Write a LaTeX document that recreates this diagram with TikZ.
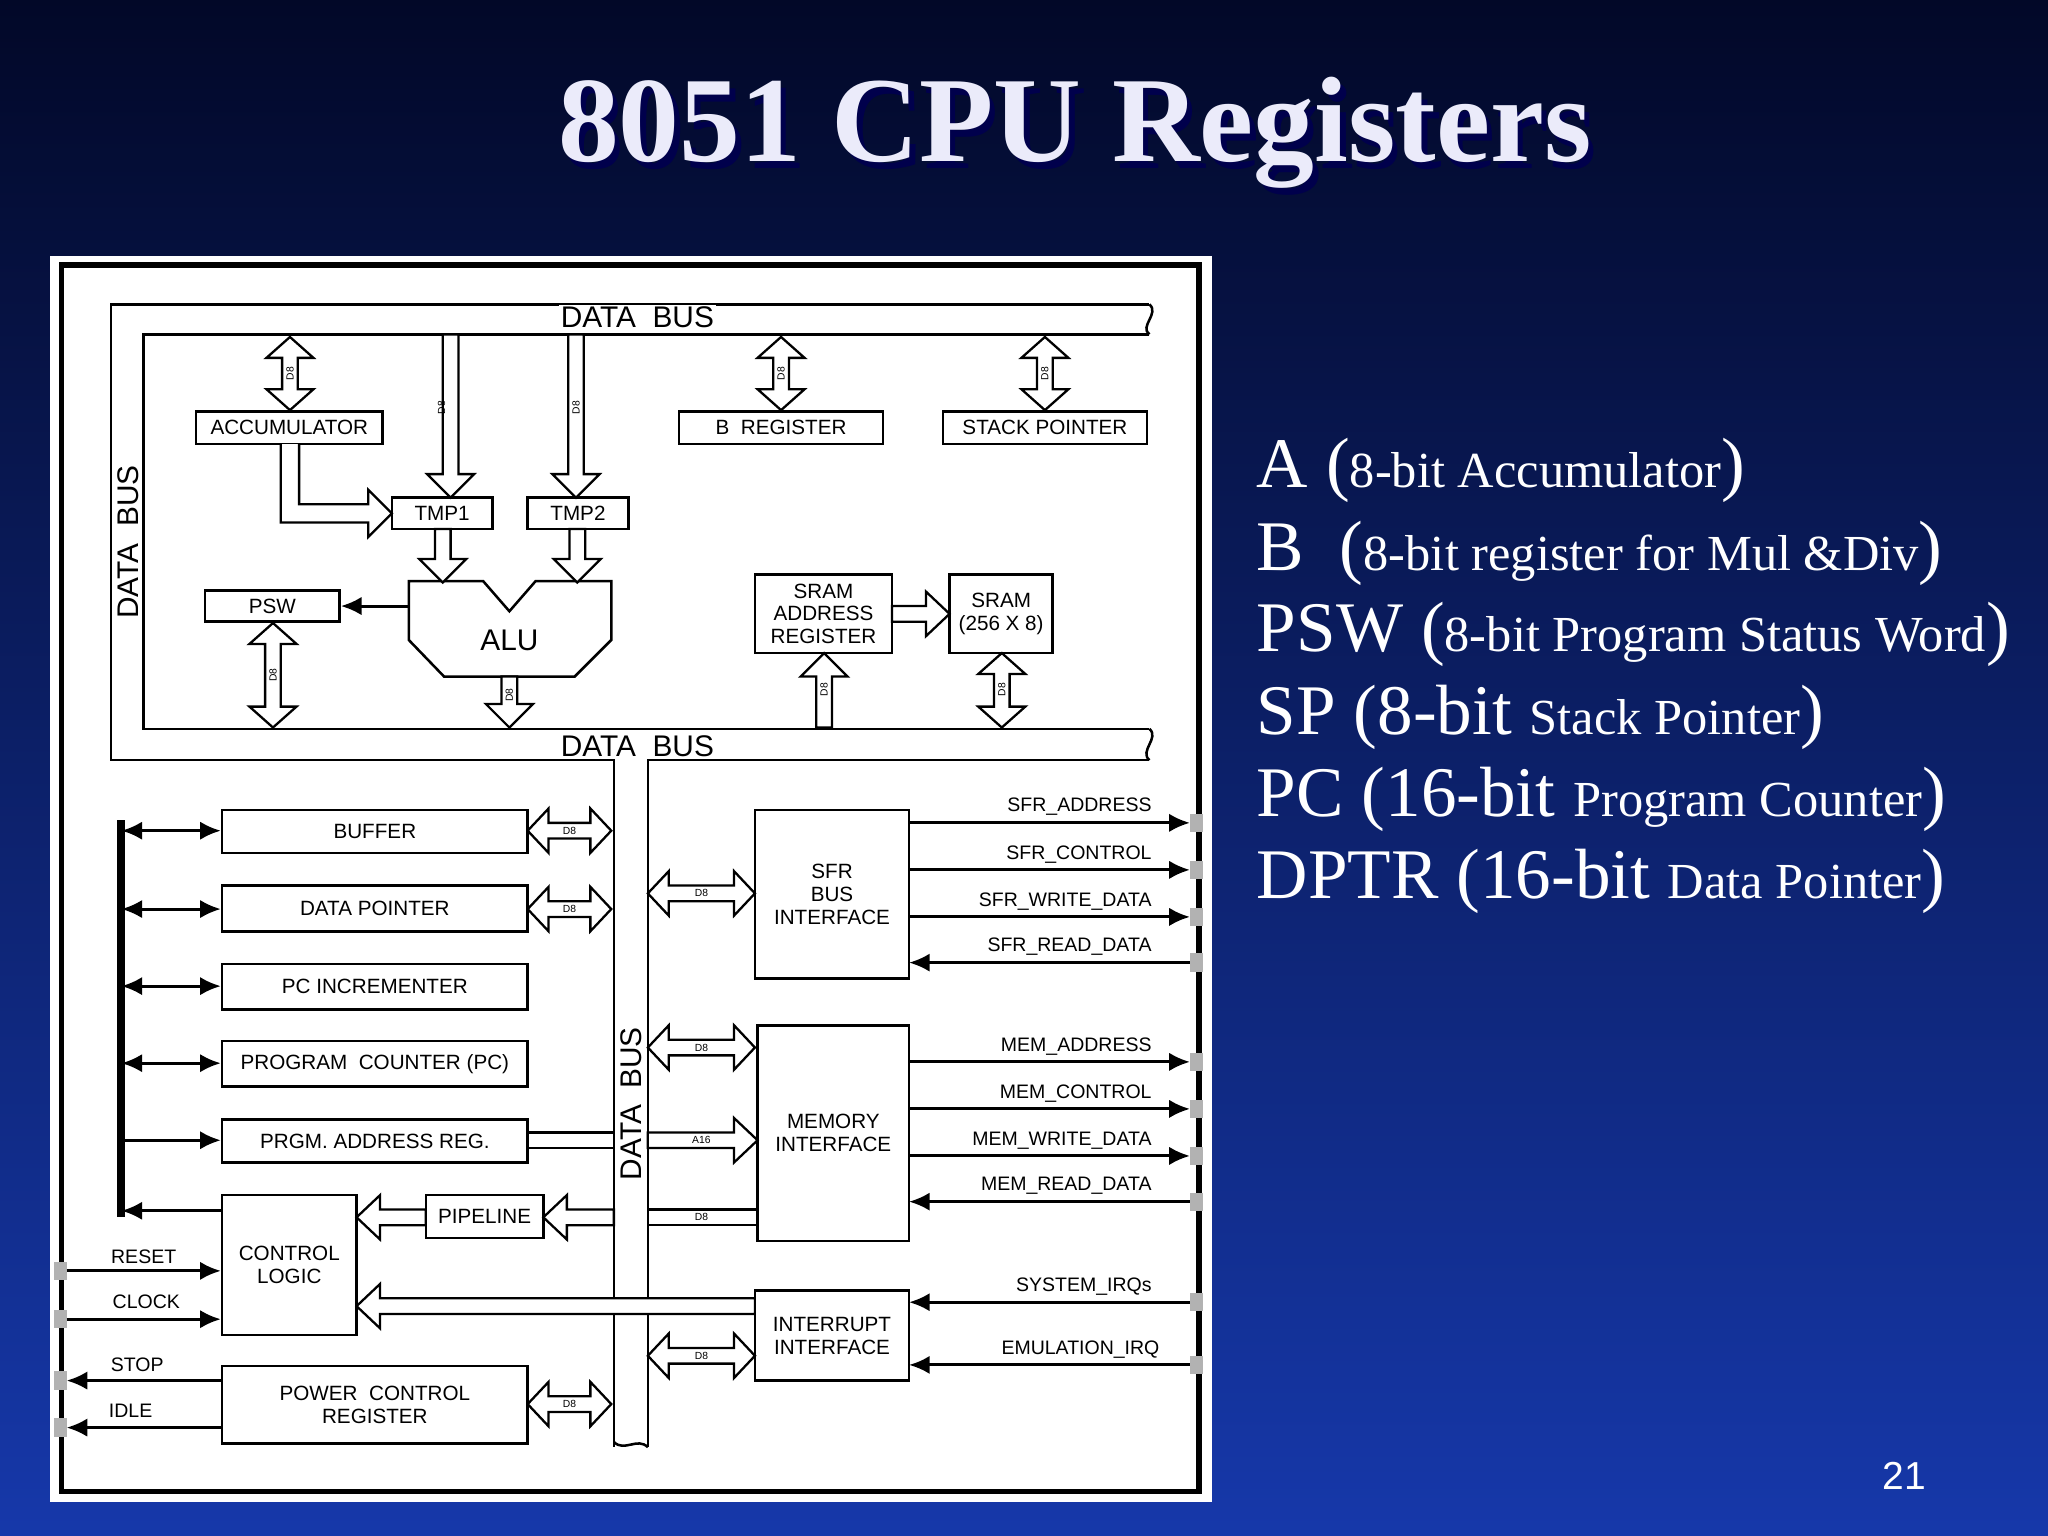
\documentclass[tikz,border=0pt]{standalone}
\usepackage{fontspec}
\setmainfont{Liberation Serif}
\newfontfamily\diag{Liberation Sans}
\usetikzlibrary{arrows.meta}
\newcommand\hd[3]{\filldraw[fill=white,draw=black,line width=1pt] (#1,#3) -- ({#1+16},{#3-17}) -- ({#1+16},{#3-6}) -- ({#2-16},{#3-6}) -- ({#2-16},{#3-17}) -- (#2,#3) -- ({#2-16},{#3+17}) -- ({#2-16},{#3+6}) -- ({#1+16},{#3+6}) -- ({#1+16},{#3+17}) -- cycle;}
\newcommand\hleft[3]{\filldraw[fill=white,draw=black,line width=1pt] (#1,#3) -- ({#1+18},{#3-17}) -- ({#1+18},{#3-6}) -- (#2,{#3-6}) -- (#2,{#3+6}) -- ({#1+18},{#3+6}) -- ({#1+18},{#3+17}) -- cycle;}
\newcommand\hright[3]{\filldraw[fill=white,draw=black,line width=1pt] (#2,#3) -- ({#2-18},{#3-17}) -- ({#2-18},{#3-6}) -- (#1,{#3-6}) -- (#1,{#3+6}) -- ({#2-18},{#3+6}) -- ({#2-18},{#3+17}) -- cycle;}
\newcommand\vd[3]{\filldraw[fill=white,draw=black,line width=1pt] (#1,#2) -- ({#1-18},{#2+16}) -- ({#1-6},{#2+16}) -- ({#1-6},{#3-16}) -- ({#1-18},{#3-16}) -- (#1,#3) -- ({#1+18},{#3-16}) -- ({#1+6},{#3-16}) -- ({#1+6},{#2+16}) -- ({#1+18},{#2+16}) -- cycle;}
\newcommand\vdown[3]{\filldraw[fill=white,draw=black,line width=1pt] (#1,#3) -- ({#1-18},{#3-18}) -- ({#1-6},{#3-18}) -- ({#1-6},#2) -- ({#1+6},#2) -- ({#1+6},{#3-18}) -- ({#1+18},{#3-18}) -- cycle;}
\newcommand\vup[3]{\filldraw[fill=white,draw=black,line width=1pt] (#1,#2) -- ({#1-18},{#2+18}) -- ({#1-6},{#2+18}) -- ({#1-6},#3) -- ({#1+6},#3) -- ({#1+6},{#2+18}) -- ({#1+18},{#2+18}) -- cycle;}
\newcommand\dl[4]{\node[font=\diag\fontsize{4.5}{5}\selectfont,rotate=#3,inner sep=0] at (#1,#2) {#4};}
\newcommand\bx[6]{\node[box,minimum width={(#4-#2)*0.02cm},minimum height={(#5-#3)*0.02cm}] (#1) at ({(#2+#4)/2},{(#3+#5)/2}) {#6};}
\begin{document}
\begin{tikzpicture}[x=0.02cm,y=-0.02cm,
  box/.style={draw=black,line width=1.1pt,fill=white,inner sep=0pt,align=center,font=\diag\fontsize{9}{10}\selectfont},
  lab/.style={font=\diag\fontsize{8.5}{10}\selectfont,inner sep=0pt},
  blab/.style={font=\diag\fontsize{13}{14}\selectfont,inner sep=1pt,fill=white},
  sig/.style={line width=1.3pt,-{Latex[length=9pt,width=8pt]}},
  rt/.style={font=\fontsize{31}{36}\selectfont,anchor=west,text=white,inner sep=0pt}]
\useasboundingbox (0,0) rectangle (1568,1176);
\shade[top color={rgb,255:red,2;green,8;blue,40},bottom color={rgb,255:red,22;green,56;blue,170}] (0,0) rectangle (1568,1176);
% title
\node[font=\fontsize{53}{60}\selectfont\bfseries,text=black!70!blue] (tsh) at (827,107) {8051 CPU Registers};
\node[font=\fontsize{53}{60}\selectfont\bfseries,text={rgb,255:red,235;green,235;blue,250}] (title) at (823,102) {8051 CPU Registers};
% right text
\def\S{\fontsize{22}{26}\selectfont}\def\B{\fontsize{31}{36}\selectfont}
\node[rt] (ta) at (962,360) {A (\S 8-bit Accumulator\B)};
\node[rt] (tb) at (962,424) {B\ \ (\S 8-bit register for Mul \&Div\B)};
\node[rt] (tp) at (962,486) {PSW (\S 8-bit Program Status Word\B)};
\node[rt] (ts) at (962,549) {SP (8-bit \S Stack Pointer\B)};
\node[rt] (tc) at (962,612) {PC (16-bit \S Program Counter\B)};
\node[rt] (td) at (962,675) {DPTR (16-bit \S Data Pointer\B)};
\node[font=\diag\fontsize{17}{20}\selectfont,text=white] (pg) at (1458,1130) {21};
% panel
\fill[white] (38,196) rectangle (928,1150);
\draw[line width=2.4pt] (47,203) rectangle (918,1142);
% data bus
\begin{scope}[line width=1.1pt]
\draw (880,233) -- (85,233) -- (85,582) -- (470,582) -- (470,1108);
\draw (496,1108) -- (496,582) -- (880,582);
\draw (880,256) -- (110,256) -- (110,558) -- (880,558);
\draw (880,233) .. controls (888,240) and (872,250) .. (880,256);
\draw (880,558) .. controls (888,565) and (872,575) .. (880,582);
\draw (470,1104) .. controls (478,1112) and (488,1100) .. (496,1108);
\end{scope}
\node[blab] at (488,243) {DATA\ \ BUS};
\node[blab] at (488,571) {DATA\ \ BUS};
\node[blab,rotate=90] at (98,415) {DATA\ \ BUS};
\node[blab,rotate=90] at (483,845) {DATA\ \ BUS};
% upper blocks
\bx{acc}{150}{315}{293}{340}{ACCUMULATOR}
\bx{breg}{520}{315}{676}{340}{B\ \ REGISTER}
\bx{sp}{722}{315}{878}{340}{STACK POINTER}
\bx{tmp1}{300}{381}{377}{405}{TMP1}
\bx{tmp2}{404}{381}{481}{405}{TMP2}
\bx{psw}{157}{452}{260}{476}{PSW}
\bx{sar}{578}{440}{683}{500}{SRAM\\ADDRESS\\REGISTER}
\bx{sram}{727}{440}{806}{500}{SRAM\\(256 X 8)}
\draw[line width=1.1pt,fill=white] (313,445) -- (370,445) -- (390,468) -- (410,445) -- (468,445) -- (468,490) -- (440,518) -- (340,518) -- (313,490) -- cycle;
\node[font=\diag\fontsize{13}{14}\selectfont] (alu) at (390,490) {ALU};
\vd{222}{258}{314}\dl{222}{286}{90}{D8}
\vd{598}{258}{314}\dl{598}{286}{90}{D8}
\vd{800}{258}{314}\dl{800}{286}{90}{D8}
\vdown{345}{256}{381}\dl{338}{312}{90}{D8}
\vdown{441}{256}{381}\dl{441}{312}{90}{D8}
\filldraw[fill=white,draw=black,line width=1pt] (215,340) -- (215,400) -- (282,400) -- (282,411) -- (300,393) -- (282,375) -- (282,386) -- (229,386) -- (229,340);
\vdown{339}{405}{446}
\vdown{442}{405}{446}
\draw[sig] (313,464) -- (psw.east);
\vd{209}{477}{557}\dl{209}{517}{90}{D8}
\vdown{390}{518}{557}\dl{390}{532}{90}{D8}
\vup{631}{500}{557}\dl{631}{528}{90}{D8}
\hright{683}{727}{470}
\vd{767}{500}{557}\dl{767}{528}{90}{D8}
% lower left blocks
\draw[line width=3.5pt] (93,628) -- (93,932);
\bx{buf}{170}{620}{404}{653}{BUFFER}
\bx{dp}{170}{678}{404}{713}{DATA POINTER}
\bx{pci}{170}{738}{404}{773}{PC INCREMENTER}
\bx{pc}{170}{797}{404}{832}{PROGRAM\ \ COUNTER (PC)}
\bx{par}{170}{857}{404}{890}{PRGM. ADDRESS REG.}
\bx{cl}{170}{915}{273}{1022}{CONTROL\\LOGIC}
\bx{pipe}{326}{915}{416}{948}{PIPELINE}
\bx{pwr}{170}{1046}{404}{1105}{POWER\ \ CONTROL\\REGISTER}
\foreach \y/\n in {636/buf,696/dp,755/pci,814/pc} {\coordinate (b\n) at (93,\y); \draw[line width=1.3pt,{Latex[length=9pt,width=8pt]}-{Latex[length=9pt,width=8pt]}] (b\n) -- (\n.west |- b\n);}
\coordinate (bpar) at (93,873); \draw[sig] (bpar) -- (par.west |- bpar);
\coordinate (bcl) at (93,927); \draw[sig] (cl.west |- bcl) -- (bcl);
\hd{404}{468}{636}\dl{436}{636}{0}{D8}
\hd{404}{468}{696}\dl{436}{696}{0}{D8}
\draw[line width=1pt] (404,867) -- (470,867) (404,879) -- (470,879);
\hleft{416}{470}{932}
\hleft{273}{326}{932}
\hleft{273}{578}{1000}
\hd{404}{468}{1075}\dl{436}{1075}{0}{D8}
% right of bus
\bx{sfr}{578}{620}{696}{749}{SFR\\BUS\\INTERFACE}
\bx{mem}{580}{785}{696}{950}{MEMORY\\INTERFACE}
\bx{intr}{578}{988}{696}{1057}{INTERRUPT\\INTERFACE}
\hd{496}{578}{684}\dl{537}{684}{0}{D8}
\hd{496}{578}{802}\dl{537}{802}{0}{D8}
\hright{496}{580}{873}\dl{537}{873}{0}{A16}
\draw[line width=1pt] (496,926) -- (580,926) (496,938) -- (580,938); \dl{537}{932}{0}{D8}
\hd{496}{578}{1038}\dl{537}{1038}{0}{D8}
% terminals
\foreach \y in {630,666,702,737,813,849,885,920,997,1045} \fill[black!30] (911,\y-7) rectangle (921,\y+7);
\foreach \y in {973,1010,1057,1093} \fill[black!30] (41,\y-7) rectangle (51,\y+7);
% outputs
\foreach \y/\t in {630/SFR\_ADDRESS,666/SFR\_CONTROL,702/SFR\_WRITE\_DATA,813/MEM\_ADDRESS,849/MEM\_CONTROL,885/MEM\_WRITE\_DATA} {\coordinate (o\y) at (911,\y); \draw[sig] (696,\y) -- (o\y); \node[lab,anchor=south east] at (882,{\y-5}) {\t};}
\foreach \y/\t/\xr in {737/SFR\_READ\_DATA/882,920/MEM\_READ\_DATA/882,997/SYSTEM\_IRQs/882,1045/EMULATION\_IRQ/888} {\coordinate (o\y) at (911,\y); \draw[sig] (o\y) -- (696,\y); \node[lab,anchor=south east] at (\xr,{\y-5}) {\t};}
% left signals
\coordinate (rs) at (51,973); \coordinate (ck) at (51,1010); \coordinate (st) at (51,1057); \coordinate (id) at (51,1093);
\draw[sig] (rs) -- (cl.west |- rs); \node[lab] at (110,962) {RESET};
\draw[sig] (ck) -- (cl.west |- ck); \node[lab] at (112,997) {CLOCK};
\draw[sig] (pwr.west |- st) -- (st); \node[lab] at (105,1045) {STOP};
\draw[sig] (pwr.west |- id) -- (id); \node[lab] at (100,1080) {IDLE};
\end{tikzpicture}
\end{document}
